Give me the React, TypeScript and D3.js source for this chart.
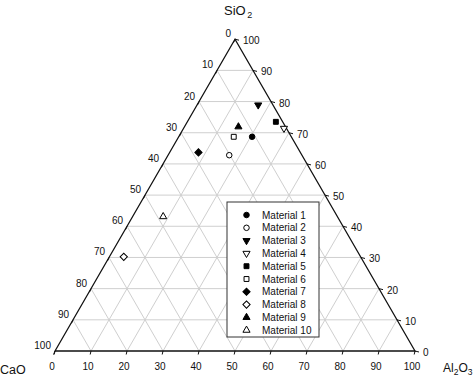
import React from "react";
import * as d3 from "d3";

const materials = ["Material 1", "Material 2", "Material 3", "Material 4", "Material 5", "Material 6", "Material 7", "Material 8", "Material 9", "Material 10"];
const sio2 = [68.7, 62.8, 78.9, 71.4, 73.5, 68.7, 63.7, 30.2, 71.9, 43.1];
const al2o3 = [20.4, 17.0, 17.0, 27.9, 24.6, 15.3, 8.0, 4.0, 15.0, 8.5];
const cao = [10.9, 20.2, 4.1, 0.7, 1.9, 16.0, 28.3, 65.8, 13.1, 48.4];
const shapes = ["circle", "circle", "tri-down", "tri-down", "square", "square", "diamond", "diamond", "tri-up", "tri-up"];
const filled = [true, false, true, false, true, false, true, false, true, false];
const tickValues = [0, 10, 20, 30, 40, 50, 60, 70, 80, 90, 100];

const W = 474, H = 378;
const xS = d3.scaleLinear().domain([0, 100]).range([55, 415]);
const yS = d3.scaleLinear().domain([0, 100]).range([351, 39.2]);
// position from (SiO2, Al2O3)
const pos = (si: number, al: number): [number, number] => [xS(al + si / 2), yS(si)];

function markerPath(shape: string): { d: string; rot: number } {
  if (shape === "circle") return { d: d3.symbol(d3.symbolCircle, 24)()!, rot: 0 };
  if (shape === "square") return { d: d3.symbol(d3.symbolSquare, 24)()!, rot: 0 };
  if (shape === "diamond") return { d: d3.symbol(d3.symbolSquare, 26)()!, rot: 45 };
  if (shape === "tri-up") return { d: d3.symbol(d3.symbolTriangle, 22)()!, rot: 0 };
  return { d: d3.symbol(d3.symbolTriangle, 22)()!, rot: 180 };
}

function Marker({ x, y, i }: { x: number; y: number; i: number }) {
  const m = markerPath(shapes[i]);
  return (
    <path
      d={m.d}
      transform={`translate(${x},${y}) rotate(${m.rot})`}
      fill={filled[i] ? "#000" : "#fff"}
      stroke="#000"
      strokeWidth={1}
    />
  );
}

export default function App() {
  const font = "'Liberation Sans', Arial, Helvetica, sans-serif";
  const grid: JSX.Element[] = [];
  tickValues.slice(1, -1).forEach((v) => {
    // constant SiO2 (horizontal)
    const a1 = pos(v, 0), b1 = pos(v, 100 - v);
    grid.push(<line key={`s${v}`} x1={a1[0]} y1={a1[1]} x2={b1[0]} y2={b1[1]} />);
    // constant Al2O3 (parallel to left edge)
    const a2 = pos(0, v), b2 = pos(100 - v, v);
    grid.push(<line key={`a${v}`} x1={a2[0]} y1={a2[1]} x2={b2[0]} y2={b2[1]} />);
    // constant CaO (parallel to right edge)
    const a3 = pos(100 - v, 0), b3 = pos(0, 100 - v);
    grid.push(<line key={`c${v}`} x1={a3[0]} y1={a3[1]} x2={b3[0]} y2={b3[1]} />);
  });

  const top = pos(100, 0), left = pos(0, 0), right = pos(0, 100);

  const legX = 227, legY = 202, legW = 92, legH = 135;

  return (
    <svg width={W} height={H} style={{ position: "absolute", left: 0, top: 0, background: "#fff" }} fontFamily={font}>
      <rect x={0} y={0} width={W} height={H} fill="#fff" />
      <g stroke="#cfcfcf" strokeWidth={1}>{grid}</g>
      <path d={`M${top[0]},${top[1]}L${left[0]},${left[1]}L${right[0]},${right[1]}Z`} fill="none" stroke="#111" strokeWidth={1.3} />

      {/* left axis: CaO, 0 at top */}
      {tickValues.map((v) => {
        const [x, y] = pos(100 - v, 0);
        return (
          <g key={`lt${v}`}>
            <line x1={x} y1={y} x2={x - 1.5} y2={y + 3.5} stroke="#111" strokeWidth={1} />
            <text x={x - 4} y={y - 2} fontSize={10} textAnchor="end" fill="#111">{v}</text>
          </g>
        );
      })}
      {/* right axis: SiO2, 100 at top */}
      {tickValues.map((v) => {
        const [x, y] = pos(v, 100 - v);
        return (
          <g key={`rt${v}`}>
            <line x1={x} y1={y} x2={x + 4} y2={y + 1} stroke="#111" strokeWidth={1} />
            <text x={x + 8} y={y + 5} fontSize={10} textAnchor="start" fill="#111">{v}</text>
          </g>
        );
      })}
      {/* bottom axis: Al2O3 */}
      {tickValues.map((v) => {
        const [x, y] = pos(0, v);
        return (
          <g key={`bt${v}`}>
            <line x1={x} y1={y} x2={x - 0.8} y2={y + 3.5} stroke="#111" strokeWidth={1} />
            <text x={x - 3} y={y + 19} fontSize={10} textAnchor="middle" fill="#111">{v}</text>
          </g>
        );
      })}

      <text x={224} y={15} fontSize={13} fill="#111">
        SiO<tspan fontSize={9} dy={3} dx={1.5}>2</tspan>
      </text>
      <text x={0} y={374} fontSize={12.5} fill="#111">CaO</text>
      <text x={443} y={372} fontSize={12} fill="#111">
        Al<tspan fontSize={8.5} dy={2.5}>2</tspan><tspan dy={-2.5}>O</tspan><tspan fontSize={8.5} dy={2.5}>3</tspan>
      </text>

      {materials.map((m, i) => {
        const [x, y] = pos(sio2[i], al2o3[i]);
        return <Marker key={`p${i}`} x={x} y={y} i={i} />;
      })}

      <rect x={legX} y={legY} width={legW} height={legH} fill="#fff" stroke="#333" strokeWidth={1} />
      {materials.map((m, i) => {
        const y = legY + 13 + i * 12.8;
        return (
          <g key={`l${i}`}>
            <Marker x={legX + 19.5} y={y} i={i} />
            <text x={legX + 35} y={y + 3.6} fontSize={10} fill="#111">{m}</text>
          </g>
        );
      })}
    </svg>
  );
}
